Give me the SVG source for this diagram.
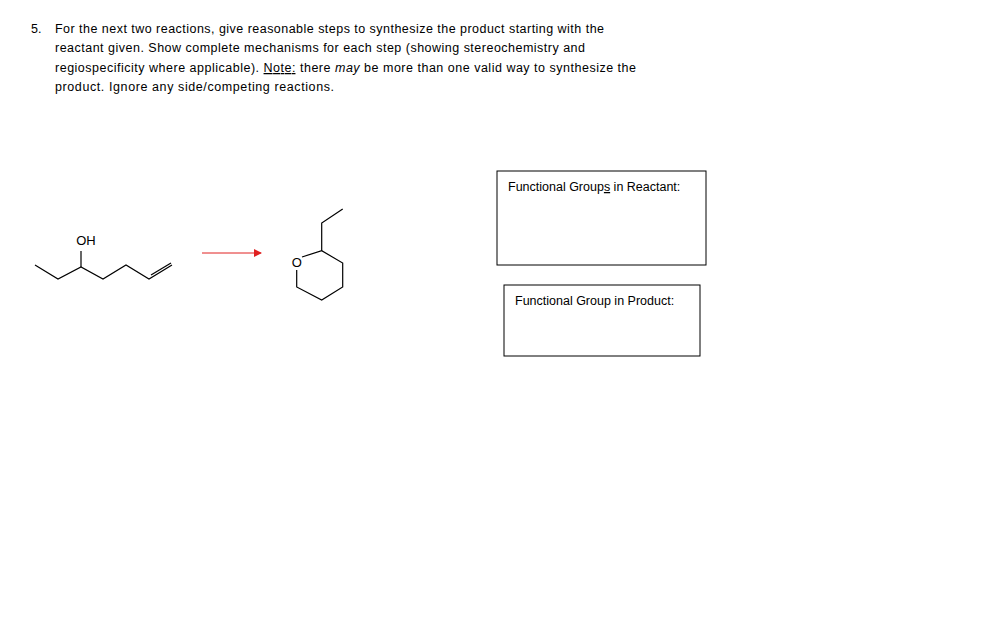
<svg xmlns="http://www.w3.org/2000/svg" width="985" height="631" viewBox="0 0 985 631">
<style>
text{font-family:"Liberation Sans",Arial,sans-serif;fill:#000}
.q{font-size:12.5px}
.b{fill:none;stroke:#000;stroke-width:1.2}
.bx{fill:#fff;stroke:#000;stroke-width:1}
.l{font-size:12.5px}
</style>
<defs><marker id="ah" markerWidth="8" markerHeight="8" refX="7" refY="4" orient="auto" markerUnits="userSpaceOnUse"><path d="M0,0 L8,4 L0,8 Z" fill="#e02020"/></marker></defs>
<rect width="985" height="631" fill="#fff"/>
<g id="question">
<text class="q" x="31" y="33">5.</text>
<text class="q" x="55" y="33" textLength="549">For the next two reactions, give reasonable steps to synthesize the product starting with the</text>
<text class="q" x="55" y="52" textLength="530">reactant given.  Show complete mechanisms for each step (showing stereochemistry and</text>
<text class="q" x="55" y="72" textLength="581">regiospecificity where applicable).  <tspan text-decoration="underline">Note:</tspan> there <tspan font-style="italic">may</tspan> be more than one valid way to synthesize the</text>
<text class="q" x="55" y="91" textLength="279">product.  Ignore any side/competing reactions.</text>
</g>
<g id="reactant">
<polyline class="b" points="35,265 58,279 81,267 103,279 126,265 149,279 172,265"/>
<line class="b" x1="151" y1="275" x2="171" y2="263"/>
<line class="b" x1="81" y1="267" x2="81" y2="251"/>
<text x="86" y="245" font-size="13" text-anchor="middle">OH</text>
</g>
<g id="connectors">
<line x1="202" y1="253" x2="261" y2="253" stroke="#e02020" stroke-width="1" marker-end="url(#ah)"/>
</g>
<g id="product">
<polyline class="b" points="302,257 321.7,250.7 342.7,263 342.7,287 321.7,300 296.7,287 296.7,270"/>
<polyline class="b" points="321.7,250.7 321.7,223 342.7,209"/>
<text x="296.7" y="267" font-size="13" text-anchor="middle">O</text>
</g>
<g id="box-reactant">
<rect class="bx" x="497" y="171" width="209" height="94"/>
<text class="l" x="508" y="191">Functional Group<tspan text-decoration="underline">s</tspan> in Reactant:</text>
</g>
<g id="box-product">
<rect class="bx" x="504" y="285" width="196" height="71"/>
<text class="l" x="515" y="305">Functional Group in Product:</text>
</g>
</svg>
